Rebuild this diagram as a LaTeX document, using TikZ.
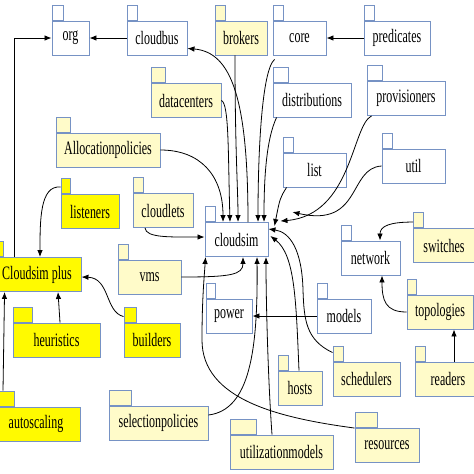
\documentclass[tikz,border=0pt]{standalone}
\usepackage{fontspec}
\newfontfamily\pkgfont[FakeStretch=0.63]{Liberation Serif}
\usetikzlibrary{arrows.meta}
\definecolor{pkgline}{RGB}{118,146,196}
\definecolor{paleyel}{RGB}{255,251,201}
\definecolor{brightyel}{RGB}{255,250,0}
\tikzset{
  pkg/.style={draw=pkgline,line width=0.9pt,inner sep=0pt,minimum height=34,font=\pkgfont\fontsize{19}{20}\selectfont},
  pkgtab/.style={draw=pkgline,line width=0.9pt,inner sep=0pt,minimum height=15,anchor=south west},
}
\begin{document}
\begin{tikzpicture}[x=1pt,y=-1pt,>={Latex[length=7pt,width=5.5pt]}]
      \useasboundingbox[fill=white] (0,0) rectangle (474,474);
      \node[pkg,fill=white,minimum width=37] (org) at (70.5,38) {org};
      \node[pkgtab,fill=white,minimum width=11] (orgtab) at (org.north west) {};
      \node[pkg,fill=white,minimum width=60] (cloudbus) at (157,38) {cloudbus};
      \node[pkgtab,fill=white,minimum width=10] (cloudbustab) at (cloudbus.north west) {};
      \node[pkg,fill=paleyel,minimum width=52] (brokers) at (241,38) {brokers};
      \node[pkgtab,fill=paleyel,minimum width=10] (brokerstab) at (brokers.north west) {};
      \node[pkg,fill=white,minimum width=53] (core) at (299.5,38) {core};
      \node[pkgtab,fill=white,minimum width=10] (coretab) at (core.north west) {};
      \node[pkg,fill=white,minimum width=66] (predicates) at (397,38) {predicates};
      \node[pkgtab,fill=white,minimum width=10] (predicatestab) at (predicates.north west) {};
      \node[pkg,fill=paleyel,minimum width=70] (datacenters) at (186,100.5) {datacenters};
      \node[pkgtab,fill=paleyel,minimum width=14] (datacenterstab) at (datacenters.north west) {};
      \node[pkg,fill=white,minimum width=78] (distributions) at (312,100) {distributions};
      \node[pkgtab,fill=white,minimum width=15] (distributionstab) at (distributions.north west) {};
      \node[pkg,fill=white,minimum width=78] (provisioners) at (406,98.5) {provisioners};
      \node[pkgtab,fill=white,minimum width=15] (provisionerstab) at (provisioners.north west) {};
      \node[pkg,fill=paleyel,minimum width=104] (allocation) at (108,150) {Allocationpolicies};
      \node[pkgtab,fill=paleyel,minimum width=14] (allocationtab) at (allocation.north west) {};
      \node[pkg,fill=white,minimum width=63] (list) at (314.5,170) {list};
      \node[pkgtab,fill=white,minimum width=10] (listtab) at (list.north west) {};
      \node[pkg,fill=white,minimum width=63] (util) at (413.5,166) {util};
      \node[pkgtab,fill=white,minimum width=10] (utiltab) at (util.north west) {};
      \node[pkg,fill=brightyel,minimum width=58] (listeners) at (90,211.5) {listeners};
      \node[pkgtab,fill=brightyel,minimum width=9] (listenerstab) at (listeners.north west) {};
      \node[pkg,fill=paleyel,minimum width=60] (cloudlets) at (163,210.5) {cloudlets};
      \node[pkgtab,fill=paleyel,minimum width=10] (cloudletstab) at (cloudlets.north west) {};
      \node[pkg,fill=white,minimum width=63] (cloudsim) at (236.5,239.5) {cloudsim};
      \node[pkgtab,fill=white,minimum width=10] (cloudsimtab) at (cloudsim.north west) {};
      \node[pkg,fill=white,minimum width=59] (network) at (370.5,258) {network};
      \node[pkgtab,fill=white,minimum width=10] (networktab) at (network.north west) {};
      \node[pkg,fill=paleyel,minimum width=61] (switches) at (444,245.5) {switches};
      \node[pkgtab,fill=paleyel,minimum width=10] (switchestab) at (switches.north west) {};
      \node[pkg,fill=brightyel,minimum width=88] (cloudsimplus) at (37,274.5) {Cloudsim plus};
      \node[pkgtab,fill=brightyel,minimum width=10] (cloudsimplustab) at (cloudsimplus.north west) {};
      \node[pkg,fill=paleyel,minimum width=63] (vms) at (149.5,277) {vms};
      \node[pkgtab,fill=paleyel,minimum width=10] (vmstab) at (vms.north west) {};
      \node[pkg,fill=white,minimum width=46] (power) at (229,316) {power};
      \node[pkgtab,fill=white,minimum width=9] (powertab) at (power.north west) {};
      \node[pkg,fill=white,minimum width=54] (models) at (344,316) {models};
      \node[pkgtab,fill=white,minimum width=10] (modelstab) at (models.north west) {};
      \node[pkg,fill=paleyel,minimum width=66] (topologies) at (440,312) {topologies};
      \node[pkgtab,fill=paleyel,minimum width=9] (topologiestab) at (topologies.north west) {};
      \node[pkg,fill=brightyel,minimum width=87] (heuristics) at (56.5,340) {heuristics};
      \node[pkgtab,fill=brightyel,minimum width=19] (heuristicstab) at (heuristics.north west) {};
      \node[pkg,fill=brightyel,minimum width=56] (builders) at (152,340) {builders};
      \node[pkgtab,fill=brightyel,minimum width=12] (builderstab) at (builders.north west) {};
      \node[pkg,fill=paleyel,minimum width=44] (hosts) at (300,388) {hosts};
      \node[pkgtab,fill=paleyel,minimum width=10] (hoststab) at (hosts.north west) {};
      \node[pkg,fill=paleyel,minimum width=67] (schedulers) at (366.5,379) {schedulers};
      \node[pkgtab,fill=paleyel,minimum width=10] (schedulerstab) at (schedulers.north west) {};
      \node[pkg,fill=paleyel,minimum width=66] (readers) at (448,379) {readers};
      \node[pkgtab,fill=paleyel,minimum width=10] (readerstab) at (readers.north west) {};
      \node[pkg,fill=brightyel,minimum width=88] (autoscaling) at (36,424) {autoscaling};
      \node[pkgtab,fill=brightyel,minimum width=22] (autoscalingtab) at (autoscaling.north west) {};
      \node[pkg,fill=paleyel,minimum width=99] (selection) at (158.5,423) {selectionpolicies};
      \node[pkgtab,fill=paleyel,minimum width=22] (selectiontab) at (selection.north west) {};
      \node[pkg,fill=paleyel,minimum width=103] (utilization) at (281.5,452) {utilizationmodels};
      \node[pkgtab,fill=paleyel,minimum width=26] (utilizationtab) at (utilization.north west) {};
      \node[pkg,fill=paleyel,minimum width=64] (resources) at (387,445.5) {resources};
      \node[pkgtab,fill=paleyel,minimum width=22] (resourcestab) at (resources.north west) {};
      \draw[->,thick] (cloudbus) -- (org);
      \draw[->,thick] (predicates) -- (core);
      \draw[->,thick] ([xshift=22]cloudsimplus.north west) |- (org);
      \draw[->,thick] ([xshift=11.5]cloudsim.north) .. controls (248,100) and (232,52) .. ([yshift=7]cloudbus.south east);
      \draw[->,thick] ([xshift=-6]brokers.south) .. controls (235,150) and (238,190) .. ([xshift=1.5]cloudsim.north);
      \draw[->,thick] (datacenters.east) .. controls (229,104) and (228,150) .. ([xshift=-6.5]cloudsim.north);
      \draw[->,thick] (allocation.east) .. controls (200,150) and (223,175) .. ([xshift=-13.5]cloudsim.north);
      \draw[->,thick] ([shift={(2,4)}]core.south west) .. controls (262,70) and (258,150) .. ([xshift=21.5]cloudsim.north);
      \draw[->,thick] ([xshift=4]distributions.south west) .. controls (266,140) and (264,180) .. ([xshift=27.5]cloudsim.north);
      \draw[->,thick] ([xshift=4]list.south west) .. controls (280,198) .. ([shift={(6,4)}]cloudsim.north east);
      \draw[->,thick] ([xshift=5]provisioners.south west) .. controls (352,125) and (352,215) .. ([shift={(12,-1)}]cloudsim.north east);
      \draw[->,thick] (util.west) .. controls (348,168) and (362,228) .. ([shift={(24,-10)}]cloudsim.north east);
      \draw[->,thick] ([xshift=-18]cloudlets.south) .. controls (146,238) and (170,237) .. ([yshift=2.5]cloudsim.west);
      \draw[->,thick] (vms.east) .. controls (230,277) and (243,275) .. ([xshift=6.5]cloudsim.south);
      \draw[->,thick] ([yshift=8]selection.east) .. controls (250,410) and (258,350) .. ([xshift=20.5]cloudsim.south);
      \draw[->,thick] ([xshift=-9.5]utilization.north) .. controls (268,380) and (266,300) .. ([xshift=29.5]cloudsim.south);
      \draw[->,thick] (resources.north west) .. controls (280,418) and (202,400) .. (202,340) .. controls (202,300) and (204,280) .. ([xshift=1]cloudsim.south west);
      \draw[->,thick] ([yshift=9]schedulers.north west) .. controls (306,340) and (304,320) .. (303,290) .. controls (302,250) and (290,232) .. ([yshift=10.5]cloudsim.east);
      \draw[->,thick] ([xshift=-1]hosts.north) .. controls (296,300) and (295,255) .. ([shift={(2,-3.5)}]cloudsim.east);
      \draw[->,thick] (models) -- (power);
      \draw[->,thick] ([yshift=6]switches.north west) .. controls (390,222) and (380,226) .. ([xshift=9.5]network.north);
      \draw[->,thick] (topologies.west) .. controls (385,312) and (382,300) .. ([xshift=11.5]network.south);
      \draw[->,thick] ([xshift=6]readers.north) -- ([xshift=14]topologies.south);
      \draw[->,thick] ([yshift=7]listeners.north west) .. controls (40,185) and (40,220) .. ([xshift=3]cloudsimplus.north);
      \draw[->,thick] ([xshift=3.5]heuristics.north) -- ([xshift=21]cloudsimplus.south);
      \draw[->,thick] ([yshift=6]builders.north west) .. controls (105,312) and (110,278) .. ([yshift=-2.5]cloudsimplus.east);
      \draw[->,thick] (autoscalingtab.north) -- ([xshift=12]cloudsimplus.south west);
    \end{tikzpicture}
\end{document}
